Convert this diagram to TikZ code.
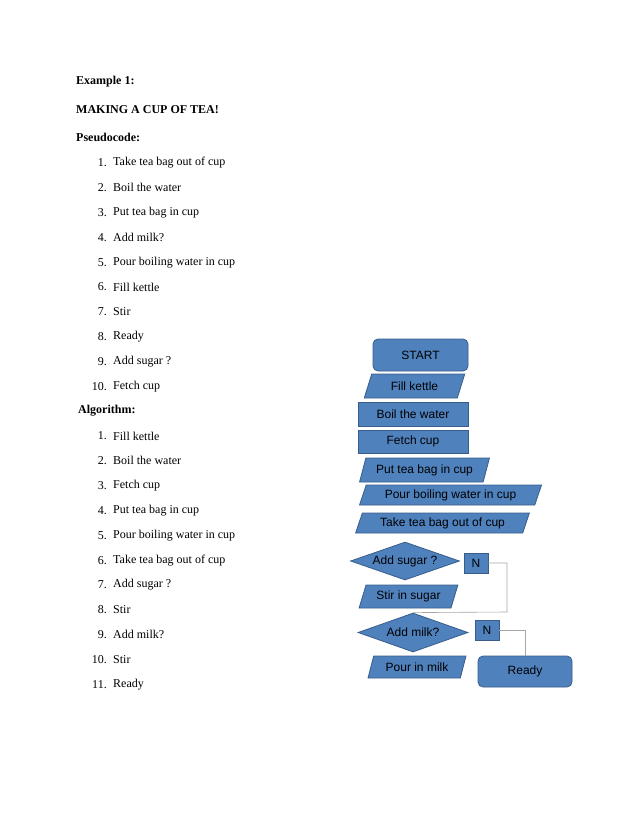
\documentclass[tikz,border=0pt]{standalone}
\usepackage{fontspec}
\setmainfont{Liberation Serif}
\newfontfamily\arial{Liberation Sans}
\usetikzlibrary{shapes.geometric}
\definecolor{fc}{HTML}{4F81BD}
\definecolor{bc}{HTML}{385D8A}
\begin{document}
\begin{tikzpicture}[x=1pt,y=-1pt,
  txt/.style={anchor=west,inner sep=0pt,font=\fontsize{12}{14}\selectfont},
  bx/.style={fill=fc,draw=bc,line width=0.8pt,font=\arial\fontsize{12}{14}\selectfont,inner sep=0pt},
  para/.style={bx,trapezium,trapezium left angle=65,trapezium right angle=115,shape border uses incircle=false,trapezium stretches=true,minimum height=#1},
  dia/.style={bx,diamond,aspect=2.8},
  ln/.style={draw=gray!70,line width=0.6pt}]
\useasboundingbox (0,0) rectangle (638,826);
\node[txt,font=\bfseries\fontsize{12}{14}\selectfont] (h1) at (76,82) {Example 1:};
\node[txt,font=\bfseries\fontsize{12}{14}\selectfont] (h2) at (76,110) {MAKING A CUP OF TEA!};
\node[txt,font=\bfseries\fontsize{12}{14}\selectfont] (h3) at (76,137) {Pseudocode:};
\foreach \i/\t [count=\k] in {1/Take tea bag out of cup,2/Boil the water,3/Put tea bag in cup,4/Add milk?,5/Pour boiling water in cup,6/Fill kettle,7/Stir,8/Ready,9/Add sugar ?,10/Fetch cup}{
  \node[txt,anchor=east] (pn\k) at (107,{163+(\k-1)*24.8}) {\i.};
  \node[txt] (pt\k) at (113,{163+(\k-1)*24.8}) {\t};
}
\node[txt,font=\bfseries\fontsize{12}{14}\selectfont] (h4) at (78,411) {Algorithm:};
\foreach \i/\t [count=\k] in {1/Fill kettle,2/Boil the water,3/Fetch cup,4/Put tea bag in cup,5/Pour boiling water in cup,6/Take tea bag out of cup,7/Add sugar ?,8/Stir,9/Add milk?,10/Stir,11/Ready}{
  \node[txt,anchor=east] (an\k) at (107,{436+(\k-1)*24.85}) {\i.};
  \node[txt] (at\k) at (113,{436+(\k-1)*24.85}) {\t};
}
% flowchart
\node[bx,rounded corners=5pt,minimum width=95,minimum height=32] (start) at (420.5,355) {START};
\node[para=24,minimum width=101] (fill) at (414.5,386) {Fill kettle};
\node[bx,minimum width=110,minimum height=24] (boil) at (413,414) {Boil the water};
\node[bx,minimum width=110,minimum height=23] (fetch) at (413,441.5) {Fetch cup};
\node[para=24,minimum width=130] (put) at (424.5,470) {Put tea bag in cup};
\node[para=20,minimum width=182] (pour) at (450.5,495) {Pour boiling water in cup};
\node[para=20,minimum width=174] (take) at (442.5,523) {Take tea bag out of cup};
\node[dia,minimum width=109,minimum height=38] (sugar) at (405,561) {Add sugar ?};
\node[bx,minimum width=24,minimum height=20] (n1) at (476,563) {N};
\node[para=23,minimum width=99] (stir) at (408.5,596.5) {Stir in sugar};
\node[dia,minimum width=110,minimum height=39] (milk) at (413,632.5) {Add milk?};
\node[bx,minimum width=24,minimum height=20] (n2) at (487,630) {N};
\node[para=22,minimum width=98] (pmilk) at (417,667) {Pour in milk};
\node[bx,rounded corners=5pt,minimum width=94,minimum height=31] (ready) at (525,671.5) {Ready};
\coordinate (c1) at (507,612);
\draw[ln] (n1.east) -| (c1) -- (milk.north);
\draw[ln] (n2.east) -| (ready.north);
\end{tikzpicture}
\end{document}
